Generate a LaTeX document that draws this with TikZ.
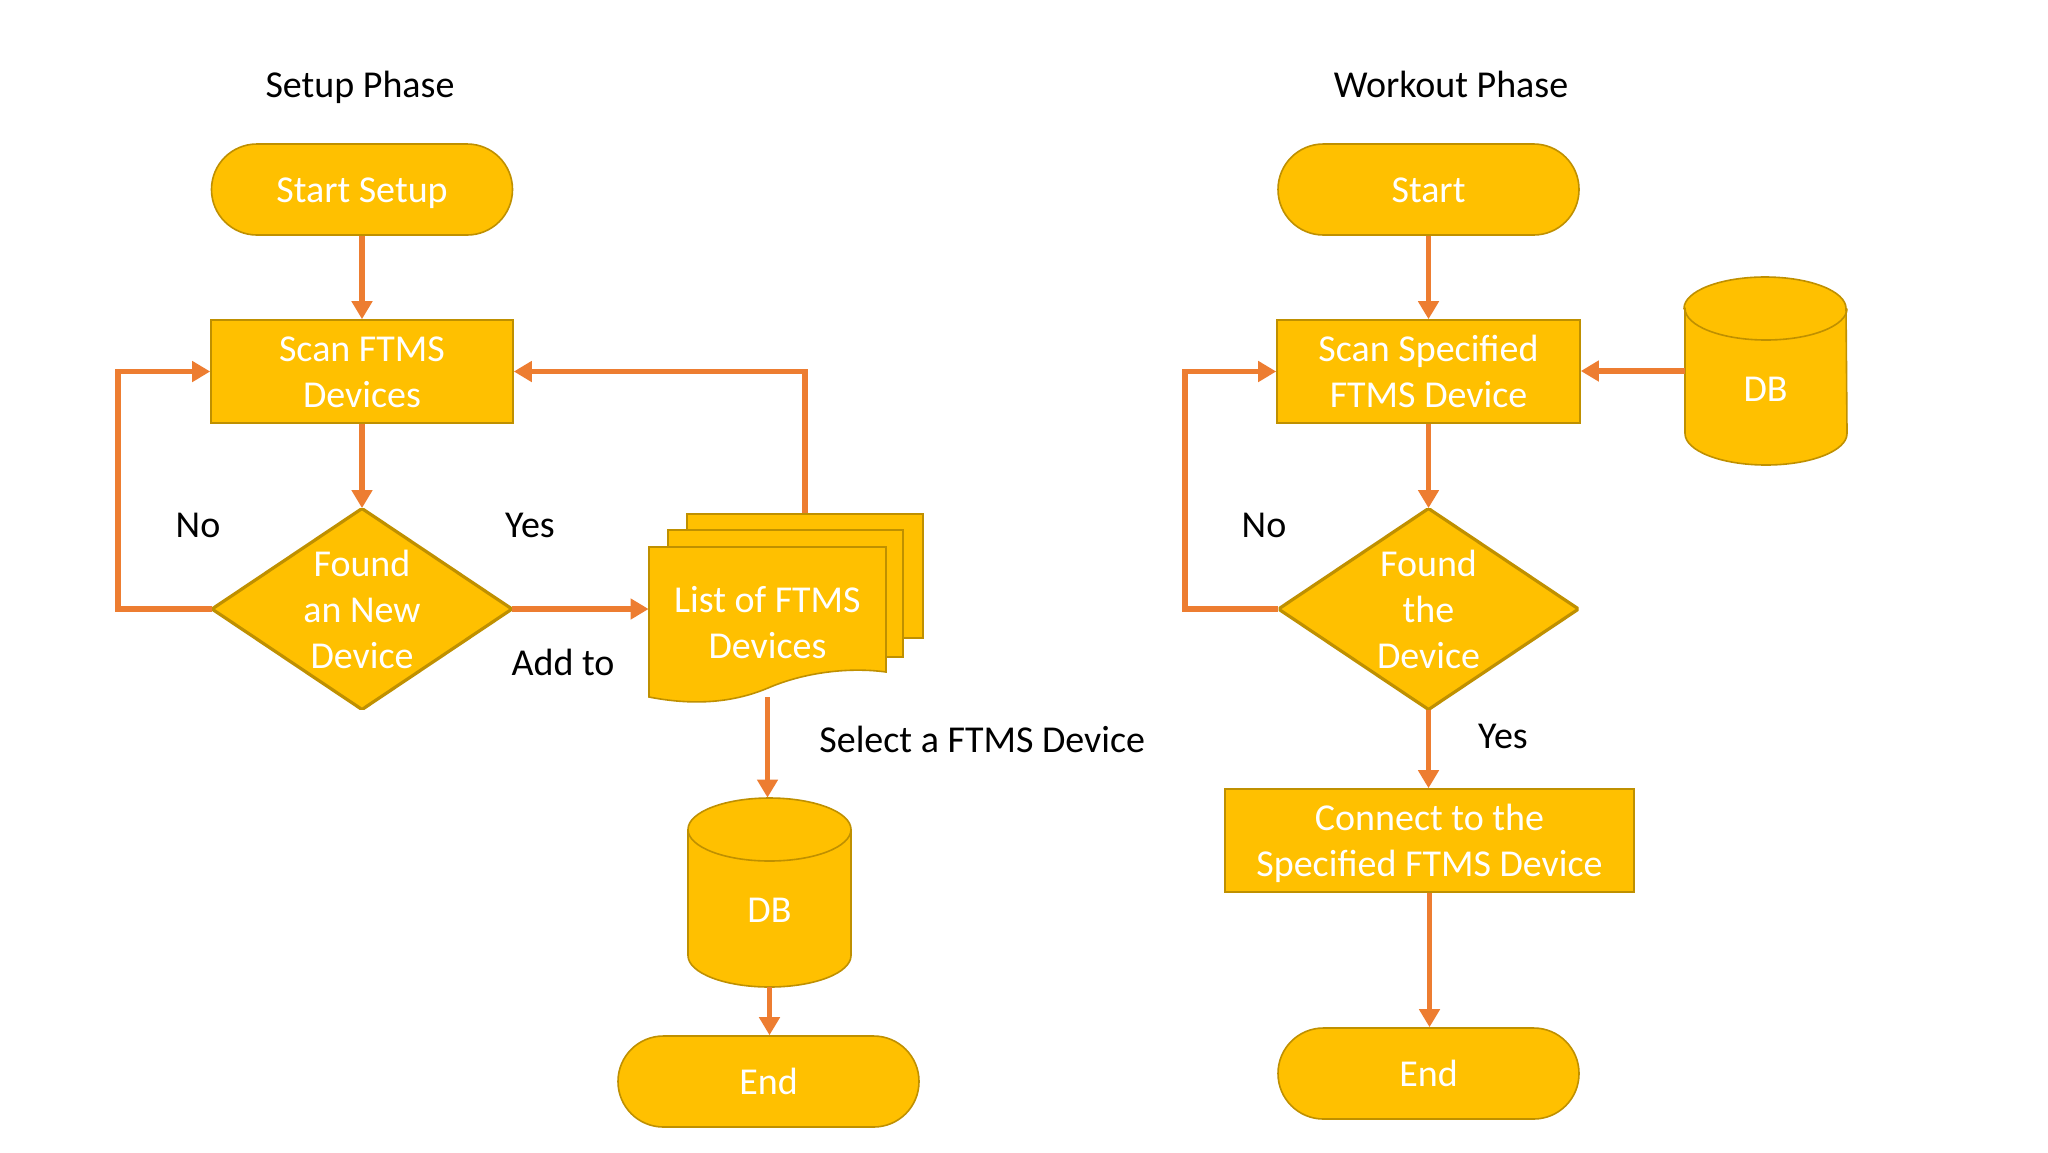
\documentclass[tikz,border=0pt]{standalone}
\usepackage{fontspec}
\setmainfont{Carlito}
\usetikzlibrary{arrows.meta,shapes.geometric}
\definecolor{gold}{HTML}{FFC000}
\definecolor{bdr}{HTML}{BF9000}
\definecolor{orng}{HTML}{ED7D31}
\newcommand\mtext[2]{\raisebox{#1}[0pt][0pt]{\begin{tabular}[t]{@{}c@{}}#2\end{tabular}}}
\tikzset{
  fnt/.style={font=\fontsize{19}{23}\selectfont},
  txt/.style={fnt,
    execute at begin node={\rule{0pt}{18pt}},
    execute at end node={\rule[-5pt]{0pt}{0pt}}},
  wtxt/.style={txt,text=white,align=center},
  mtxt/.style={fnt,text=white},
  term/.style={wtxt,draw=bdr,fill=gold,line width=0.8pt,minimum width=150.5pt,minimum height=45.5pt,rounded corners=22.7pt,inner sep=0pt},
  proc/.style={mtxt,draw=bdr,fill=gold,line width=0.8pt,minimum height=51.5pt,inner sep=0pt},
  dec/.style={mtxt,minimum width=150pt,minimum height=100.5pt,inner sep=0pt,
    path picture={\path[draw=bdr,fill=gold,line width=1.6pt]
      (path picture bounding box.north) -- (path picture bounding box.east) --
      (path picture bounding box.south) -- (path picture bounding box.west) -- cycle;}},
  shp/.style={draw=bdr,fill=gold,line width=0.8pt},
  arr/.style={draw=orng,line width=2.8pt,-{Triangle[length=9pt,width=10pt]}},
  lab/.style={txt,text=black}
}
\begin{document}
\begin{tikzpicture}[x=0.5pt,y=-0.5pt]
\useasboundingbox[fill=white] (0,0) rectangle (2048,1152);

% ---------- Setup phase ----------
\node[lab] (setupt) at (360,84) {Setup Phase};
\node[term] (start1) at (362,189.5) {Start Setup};
\node[proc,minimum width=151pt] (scan1) at (362,371.5) {\mtext{5pt}{Scan FTMS\\Devices}};
\node[dec] (d1) at (362,609) {\mtext{16.5pt}{Found\\an New\\Device}};

% multi-document
\node[shp,minimum width=118pt,minimum height=62pt,inner sep=0pt] (listback) at (805,576) {};
\node[shp,minimum width=117.5pt,minimum height=63.5pt,inner sep=0pt] (listmid) at (785.5,593.5) {};
\path[shp] (649,547) -- (886,547) -- (886,672)
  .. controls (850,667) and (805,672) .. (768,688)
  .. controls (730,704) and (690,705) .. (649,697) -- cycle;
\node[mtxt,minimum width=118.5pt,minimum height=75pt,inner sep=0pt] (list) at (767.5,622) {\mtext{5pt}{List of FTMS\\Devices}};

% DB 1 cylinder
\path[shp] (688,829.5) -- (688,955.5) arc[start angle=180,end angle=360,x radius=40.75pt,y radius=15.75pt]
  -- (851,829.5) arc[start angle=0,end angle=180,x radius=40.75pt,y radius=15.75pt] -- cycle;
\draw[bdr,line width=0.8pt] (688,829.5) arc[start angle=180,end angle=360,x radius=40.75pt,y radius=15.75pt];
\node[wtxt,minimum width=81.5pt,minimum height=94.5pt,inner sep=0pt] (db1) at (769.5,892.5) {\raisebox{-8.5pt}[18pt][5pt]{DB}};

\node[term] (end1) at (768.5,1081.5) {End};

\coordinate (lp1) at (118,609);
\draw[arr] (start1.south) -- (scan1.north);
\draw[arr] (scan1.south) -- (d1.north);
\draw[arr] (d1.west) -- (lp1) |- (scan1.west);
\draw[arr] (d1.east) -- (d1.east -| list.west);
\draw[arr] (listback.north) |- (scan1.east);
\draw[arr] (list.south) -- (list.south |- db1.north);
\draw[arr] (db1.south) -- (db1.south |- end1.north);

\node[lab] (no1) at (198,524) {No};
\node[lab] (yes1) at (530,524) {Yes};
\node[lab] (add) at (563,662) {Add to};
\node[lab,anchor=west,inner sep=0pt] (sel) at (819,739) {Select a FTMS Device};

% ---------- Workout phase ----------
\node[lab] (workt) at (1451,84) {Workout Phase};
\node[term] (start2) at (1428.5,189.5) {Start};
\node[proc,minimum width=151.5pt] (scan2) at (1428.5,371.5) {\mtext{5pt}{Scan Specified\\FTMS Device}};
\node[dec] (d2) at (1428.5,609) {\mtext{16.5pt}{Found\\the\\Device}};
\node[proc,minimum width=204.5pt] (conn) at (1429.5,840.5) {\mtext{5pt}{Connect to the\\Specified FTMS Device}};
\node[term] (end2) at (1428.5,1073.5) {End};

% DB 2 cylinder
\path[shp] (1685,308.5) -- (1685,433.5) arc[start angle=180,end angle=360,x radius=40.5pt,y radius=15.75pt]
  -- (1846,308.5) arc[start angle=0,end angle=180,x radius=40.5pt,y radius=15.75pt] -- cycle;
\draw[bdr,line width=0.8pt] (1685,308.5) arc[start angle=180,end angle=360,x radius=40.5pt,y radius=15.75pt];
\node[wtxt,minimum width=80.5pt,minimum height=94pt,inner sep=0pt] (db2) at (1765.5,371) {\raisebox{-8.5pt}[18pt][5pt]{DB}};

\coordinate (lp2) at (1185,609);
\draw[arr] (start2.south) -- (scan2.north);
\draw[arr] (scan2.south) -- (d2.north);
\draw[arr] (d2.west) -- (lp2) |- (scan2.west);
\draw[arr] (db2.west) -- (db2.west -| scan2.east);
\draw[arr] (d2.south) -- (d2.south |- conn.north);
\draw[arr] (conn.south) -- (conn.south |- end2.north);

\node[lab] (no2) at (1264,524) {No};
\node[lab] (yes2) at (1503,735) {Yes};
\end{tikzpicture}
\end{document}
